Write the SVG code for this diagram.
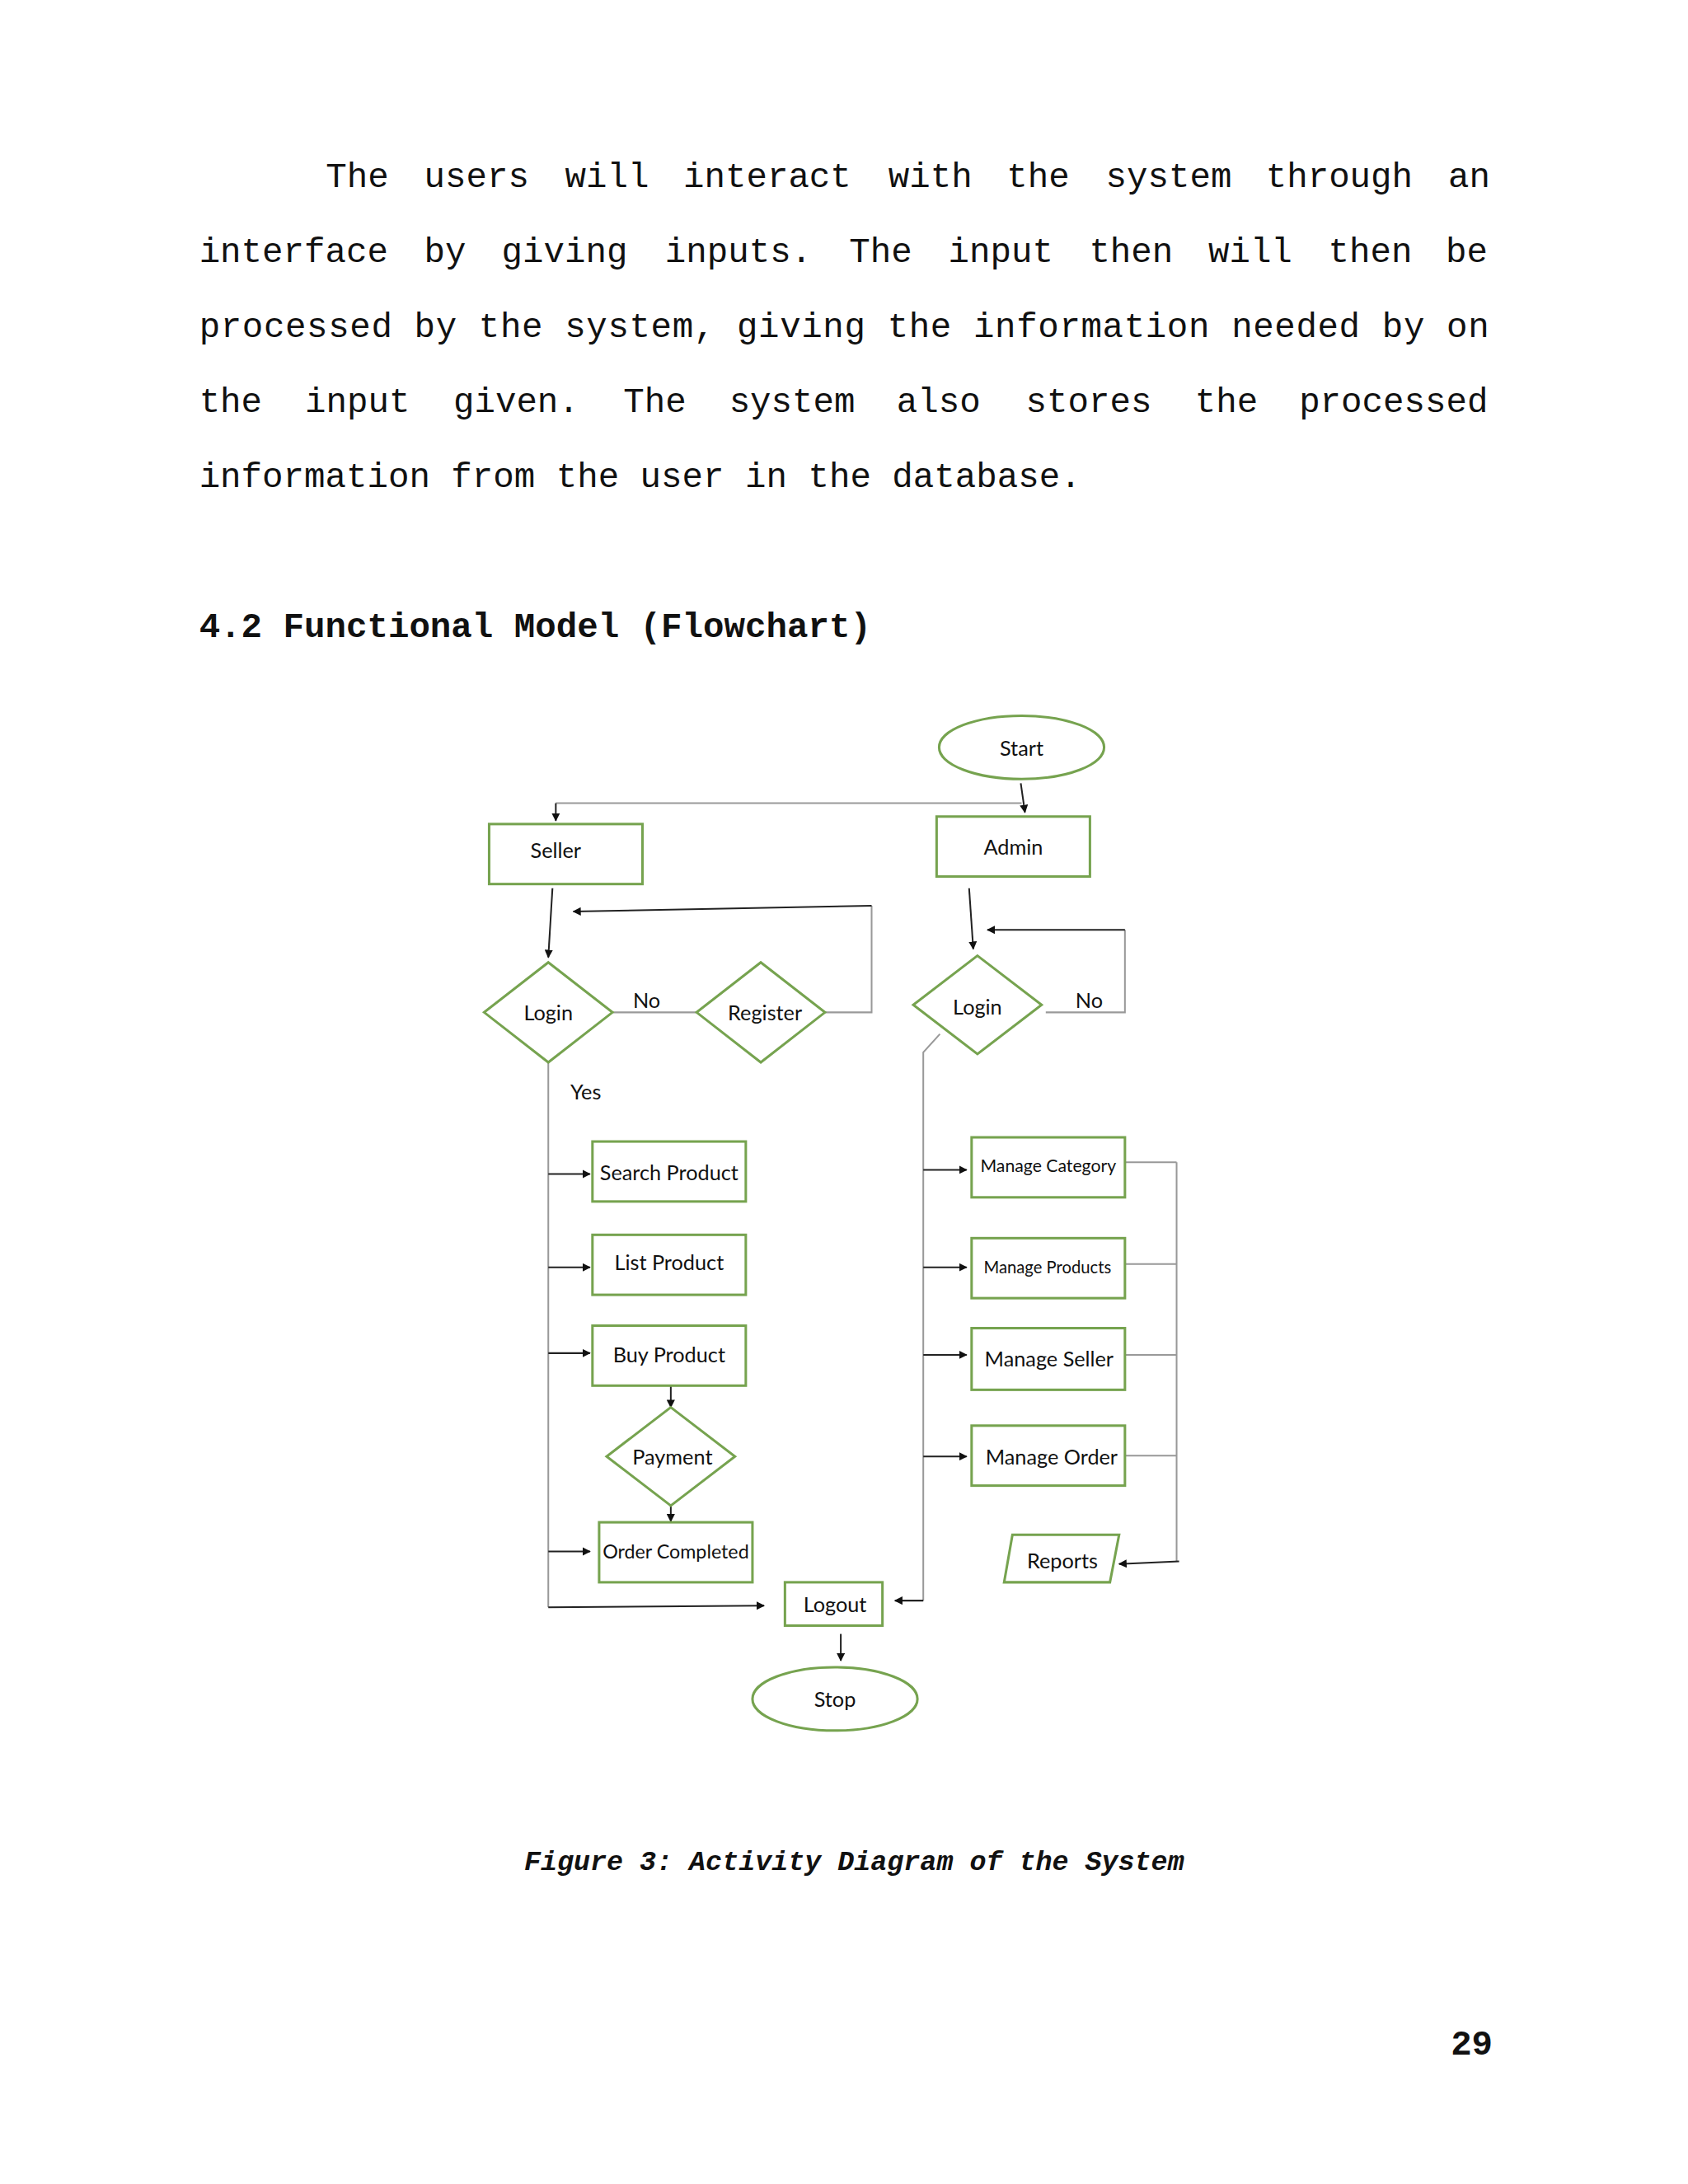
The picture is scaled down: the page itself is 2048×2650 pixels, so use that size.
<svg xmlns="http://www.w3.org/2000/svg" width="2048" height="2650" viewBox="0 0 2048 2650">
<style>
.p{font-family:"Liberation Mono","DejaVu Sans Mono",monospace;font-size:42px;fill:#111}
.h{font-family:"Liberation Mono",monospace;font-size:42px;font-weight:bold;fill:#111}
.c{font-family:"Liberation Mono",monospace;font-size:33px;font-weight:bold;font-style:italic;fill:#111}
.n{fill:#fff;stroke:#76a34f;stroke-width:3}
.t{font-family:Lato,"Liberation Sans",sans-serif;font-size:25px;fill:#111;text-anchor:middle;dominant-baseline:central}
.s21{font-size:21px}.s20{font-size:20px}.s23{font-size:23px}
.g{fill:none;stroke:#999;stroke-width:2}
.a{fill:none;stroke:#222;stroke-width:2;marker-end:url(#ar)}
</style>
<defs><marker id="ar" viewBox="0 0 10 10" refX="9" refY="5" markerWidth="5" markerHeight="5" orient="auto"><path d="M0,0L10,5L0,10z" fill="#111"/></marker></defs>
<rect width="2048" height="2650" fill="#fff"/>
<g transform="scale(1.011)">
<g id="para">
<text class="p" y="225"><tspan x="391">The</tspan><tspan x="509">users</tspan><tspan x="678">will</tspan><tspan x="820">interact</tspan><tspan x="1066">with</tspan><tspan x="1208">the</tspan><tspan x="1327">system</tspan><tspan x="1519">through</tspan><tspan x="1738">an</tspan></text>
<text class="p" y="315"><tspan x="239">interface</tspan><tspan x="509">by</tspan><tspan x="602">giving</tspan><tspan x="798">inputs.</tspan><tspan x="1019">The</tspan><tspan x="1138">input</tspan><tspan x="1307">then</tspan><tspan x="1450">will</tspan><tspan x="1594">then</tspan><tspan x="1735">be</tspan></text>
<text class="p" x="239" y="405" textLength="1548" lengthAdjust="spacing">processed by the system, giving the information needed by on</text>
<text class="p" y="495"><tspan x="239">the</tspan><tspan x="366">input</tspan><tspan x="544">given.</tspan><tspan x="748">The</tspan><tspan x="875">system</tspan><tspan x="1076">also</tspan><tspan x="1231">stores</tspan><tspan x="1434">the</tspan><tspan x="1559">processed</tspan></text>
<text class="p" x="239" y="585">information from the user in the database.</text>
<text class="h" x="239" y="765">4.2 Functional Model (Flowchart)</text>
<text class="c" x="629" y="2244">Figure 3: Activity Diagram of the System</text>
<text class="h" x="1741" y="2466">29</text>
</g>
<g id="connectors">
<path class="g" d="M1226,964H667"/>
<path class="a" d="M667,964V985"/>
<path class="a" d="M1225,940L1230,975"/>
<path class="a" d="M663,1066L658,1149"/>
<path class="g" d="M736,1215H836"/>
<path class="g" d="M990,1215H1046V1087"/>
<path class="a" d="M1046,1087L688,1094"/>
<path class="a" d="M1163,1066L1168,1139"/>
<path class="g" d="M1255,1215H1350V1116"/>
<path class="a" d="M1350,1116H1185"/>
<path class="g" d="M1128,1241L1108,1263V1921"/>
<path class="a" d="M1108,1921H1074"/>
<path class="g" d="M658,1275V1929"/>
<path class="a" d="M658,1929L917,1927"/>
<path class="a" d="M658,1409H708"/>
<path class="a" d="M658,1521H708"/>
<path class="a" d="M658,1624H708"/>
<path class="a" d="M658,1862H708"/>
<path class="a" d="M805,1663V1689"/>
<path class="a" d="M805,1807V1826"/>
<path class="a" d="M1009,1961V1993"/>
<path class="a" d="M1108,1404H1160"/>
<path class="a" d="M1108,1521H1160"/>
<path class="a" d="M1108,1626H1160"/>
<path class="a" d="M1108,1748H1160"/>
<path class="g" d="M1350,1395H1412M1350,1517H1412M1350,1626H1412M1350,1747H1412M1412,1395V1874"/>
<path class="a" d="M1415,1874L1343,1877"/>
<text class="t" x="776" y="1200">No</text>
<text class="t" x="1307" y="1200">No</text>
<text class="t" x="703" y="1310">Yes</text>
</g>
<g id="start"><ellipse class="n" cx="1226" cy="897" rx="99" ry="38"/><text class="t" x="1226" y="897">Start</text></g>
<g id="seller"><rect class="n" x="587" y="989" width="184" height="72"/><text class="t" x="667" y="1020">Seller</text></g>
<g id="admin"><rect class="n" x="1124" y="980" width="184" height="72"/><text class="t" x="1216" y="1016">Admin</text></g>
<g id="login1"><polygon class="n" points="658,1155 735,1215 658,1275 581,1215"/><text class="t" x="658" y="1215">Login</text></g>
<g id="register"><polygon class="n" points="913,1155 990,1215 913,1275 836,1215"/><text class="t" x="918" y="1215">Register</text></g>
<g id="login2"><polygon class="n" points="1173,1147 1250,1206 1173,1265 1096,1206"/><text class="t" x="1173" y="1208">Login</text></g>
<g id="search"><rect class="n" x="711" y="1370" width="184" height="72"/><text class="t" x="803" y="1407">Search Product</text></g>
<g id="list"><rect class="n" x="711" y="1482" width="184" height="72"/><text class="t" x="803" y="1514">List Product</text></g>
<g id="buy"><rect class="n" x="711" y="1591" width="184" height="72"/><text class="t" x="803" y="1625">Buy Product</text></g>
<g id="payment"><polygon class="n" points="805,1689 882,1748 805,1807 728,1748"/><text class="t" x="807" y="1748">Payment</text></g>
<g id="order"><rect class="n" x="719" y="1827" width="184" height="72"/><text class="t s23" x="811" y="1862">Order Completed</text></g>
<g id="logout"><rect class="n" x="942" y="1899" width="117" height="52"/><text class="t" x="1002" y="1925">Logout</text></g>
<g id="stop"><ellipse class="n" cx="1002" cy="2039" rx="99" ry="38"/><text class="t" x="1002" y="2039">Stop</text></g>
<g id="mcat"><rect class="n" x="1166" y="1365" width="184" height="72"/><text class="t s21" x="1258" y="1399">Manage Category</text></g>
<g id="mprod"><rect class="n" x="1166" y="1486" width="184" height="72"/><text class="t s20" x="1257" y="1520">Manage Products</text></g>
<g id="mseller"><rect class="n" x="1166" y="1594" width="184" height="74"/><text class="t" x="1259" y="1630">Manage Seller</text></g>
<g id="morder"><rect class="n" x="1166" y="1711" width="184" height="72"/><text class="t" x="1262" y="1748">Manage Order</text></g>
<g id="reports"><polygon class="n" points="1215,1842 1343,1842 1332,1899 1205,1899"/><text class="t" x="1275" y="1872">Reports</text></g>
</g>
</svg>
